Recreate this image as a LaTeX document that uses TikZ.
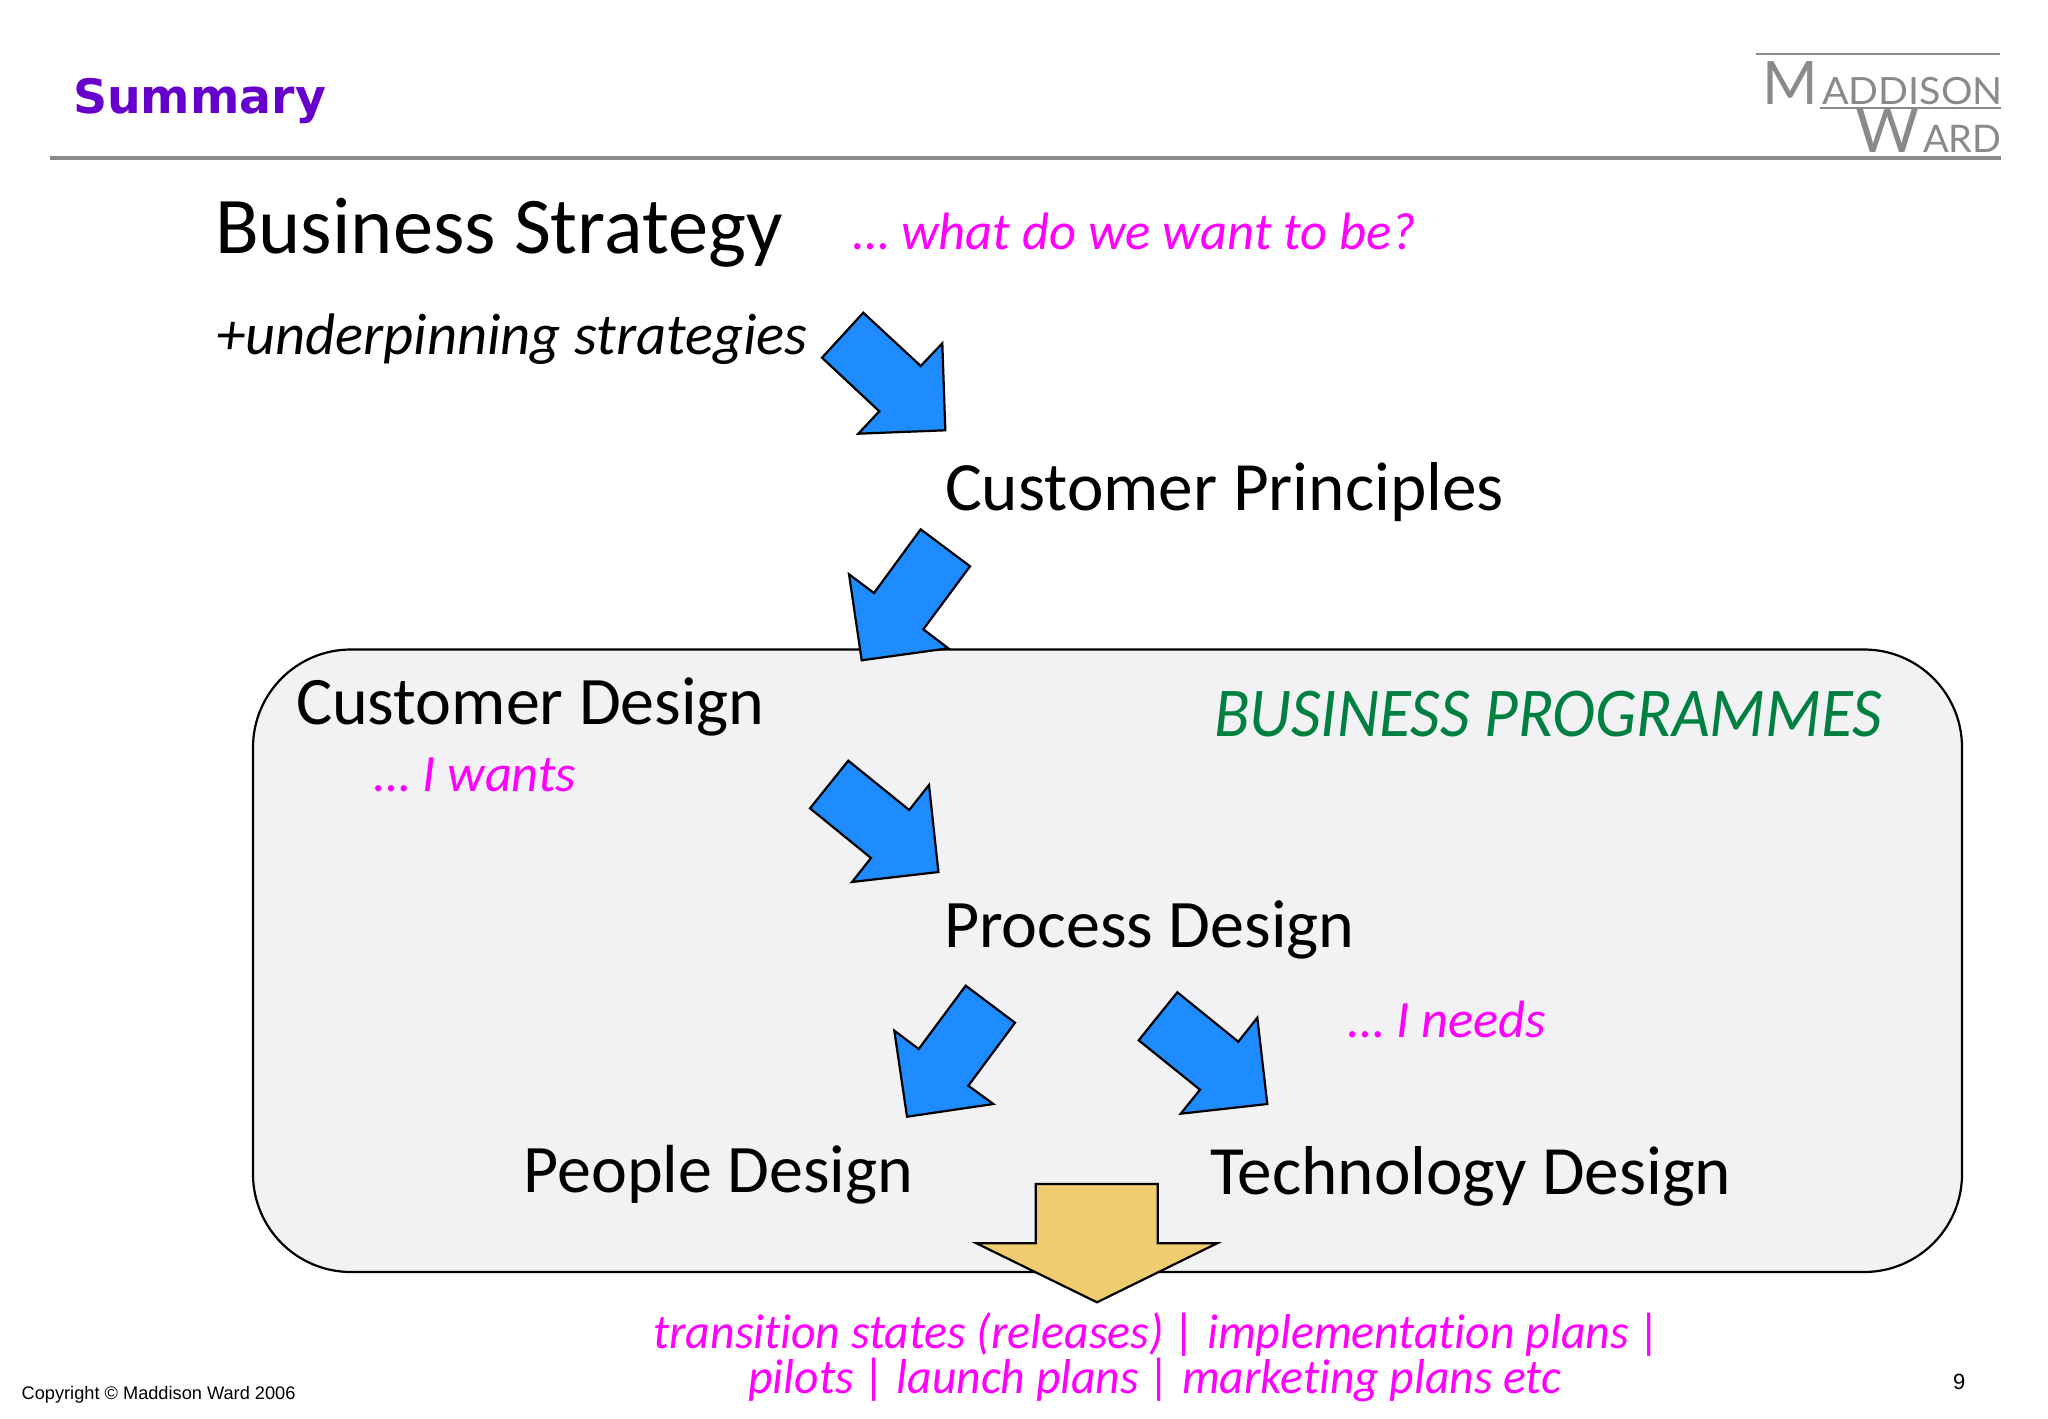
\documentclass[tikz,border=0pt]{standalone}
\usepackage{fontspec}
\setmainfont{Carlito}[Ligatures=CommonOff]
\newfontfamily\summaryfont{DejaVu Sans}
\newfontfamily\arialfont{Liberation Sans}
\newfontfamily\logofont{Lato}
\definecolor{pinktext}{HTML}{FF00FF}
\definecolor{greentext}{HTML}{008040}
\definecolor{bluearrow}{HTML}{1E8CFF}
\definecolor{yellowarrow}{HTML}{F0CC70}
\definecolor{boxfill}{HTML}{F2F1F3}
\definecolor{logogrey}{HTML}{8A8A8A}
\definecolor{titlepurple}{HTML}{6600CC}
\newcommand{\fs}[1]{\fontsize{#1}{#1}\selectfont}
\tikzset{
  label text/.style={inner sep=0pt,outer sep=0pt,anchor=base west},
  heading/.style={label text,text=black,font=\fs{34}},
  pinknote/.style={label text,text=pinktext,font=\fs{26.2}\itshape},
  blockarrow/.style={draw=black,line width=1.1pt,fill=bluearrow,line join=miter},
  logorule/.style={draw=logogrey,line width=1.1pt},
  logotext/.style={label text,text=logogrey,transform shape}
}
\begin{document}
\begin{tikzpicture}[x=0.5pt,y=-0.5pt]
\useasboundingbox (0,0) rectangle (2048,1418);
% logo rules and header rule
\draw[logorule] (1756,54) -- (2000,54);
\draw[logorule,line width=.85pt] (1820,108) -- (2001,108);
\draw[logorule,line width=1.8pt] (50,157.7) -- (2001,157.7);
% logo
\node[logotext,font=\logofont\fs{30}] (logoM) at (1762,104.7) {M};
\node[logotext,font=\logofont\fs{18.75},xscale=1.05] (logoA) at (1822,104.7) {ADDISON};
\node[logotext,font=\logofont\fs{31}] (logoW) at (1855,152) {W};
\node[logotext,font=\logofont\fs{19}] (logoR) at (1923,152) {ARD};
% title
\node[label text,text=titlepurple,font=\summaryfont\bfseries\fs{23.7}] (title) at (73,113) {Summary};
% business programmes box
\draw[draw=black,line width=1.1pt,fill=boxfill,rounded corners=49pt] (253,649.5) rectangle (1962,1272);
% arrows
\draw[blockarrow] (863.3,312.7) -- (920.7,366) -- (942.3,343.3) -- (945.3,430.3) -- (858.3,433.7) -- (879.3,411.3) -- (822,357.7) -- cycle;
\draw[blockarrow] (920.7,529.3) -- (970,566.3) -- (923.3,629.3) -- (948.3,648.3) -- (861.7,660.3) -- (849,574.3) -- (874,593) -- cycle;
\draw[blockarrow] (848.3,760.7) -- (909.2,810) -- (929,785) -- (938.4,872) -- (852,882) -- (871,858) -- (810,808.3) -- cycle;
\draw[blockarrow] (965.7,985.7) -- (1015,1022.7) -- (968.3,1085.7) -- (993.3,1104) -- (907,1116.7) -- (894.3,1030.7) -- (918.7,1049) -- cycle;
\draw[blockarrow] (1177.3,992.3) -- (1238.3,1041.7) -- (1257.3,1017.7) -- (1267.3,1104) -- (1180.7,1113.7) -- (1200,1089.7) -- (1138.7,1040.3) -- cycle;
\draw[blockarrow,fill=yellowarrow] (1035.7,1184) -- (1157.7,1184) -- (1157.7,1243.3) -- (1217,1243.3) -- (1097,1302.3) -- (976.5,1243.3) -- (1035.7,1243.3) -- cycle;
% headings
\node[heading,font=\fs{40.2}] (strategy) at (215,253.3) {Business Strategy};
\node[label text,font=\fs{29.3}\itshape] (under) at (216,354.5) {+underpinning strategies};
\node[pinknote,font=\fs{26.3}\itshape] (want) at (853,249.5) {… what do we want to be?};
\node[heading,font=\fs{34.6}] (principles) at (945,510) {Customer Principles};
\node[heading] (cdesign) at (296,724) {Customer Design};
\node[pinknote] (iwants) at (374.5,791) {… I wants};
\node[label text,text=greentext,font=\fs{35}\itshape,xscale=.932,transform shape] (programmes) at (1214,736) {BUSINESS PROGRAMMES};
\node[heading] (pdesign) at (944,947) {Process Design};
\node[pinknote] (ineeds) at (1348,1037.5) {… I needs};
\node[heading] (people) at (523.5,1192) {People Design};
\node[heading,font=\fs{34.6}] (tech) at (1210,1194) {Technology Design};
\node[pinknote,font=\fs{24.5}\itshape,xscale=.975,transform shape] (trans1) at (653.5,1348) {transition states (releases) | implementation plans |};
\node[pinknote,font=\fs{24.5}\itshape,xscale=.971,transform shape] (trans2) at (748.4,1393) {pilots | launch plans | marketing plans etc};
% footer
\node[label text,font=\arialfont\fs{9.1}] (copy) at (21.7,1399.3) {Copyright © Maddison Ward 2006};
\node[label text,font=\arialfont\fs{11}] (page) at (1953,1389) {9};
\end{tikzpicture}
\end{document}
